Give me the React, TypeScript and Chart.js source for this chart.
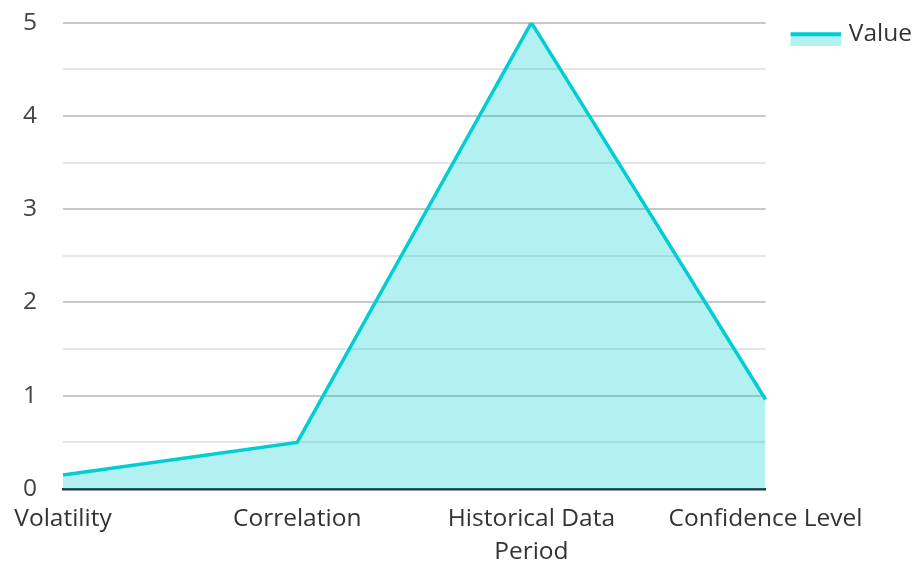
import React, { useEffect, useRef } from "react";
import { Chart, registerables } from "chart.js";

Chart.register(...registerables);

const categories: (string | string[])[] = ["Volatility", "Correlation", ["Historical Data", "Period"], "Confidence Level"];
const values: number[] = [0.15, 0.5, 5, 0.96];
const seriesName = "Value";
const yMin = 0;
const yMax = 5;
const yStep = 0.5;

const LINE = "#00CED1";
const FILL = "rgba(0,206,209,0.3)";
const FONT = "'Open Sans', 'Noto Sans', sans-serif";
const FS = 24.5;

function makeLegendIcon(): HTMLCanvasElement {
  const c = document.createElement("canvas");
  c.width = 74;
  c.height = 24;
  const ctx = c.getContext("2d")!;
  ctx.fillStyle = FILL;
  ctx.fillRect(24, 10, 50, 14);
  ctx.fillStyle = LINE;
  ctx.fillRect(24, 10, 50, 4);
  return c;
}

export default function App() {
  const ref = useRef<HTMLCanvasElement>(null);
  useEffect(() => {
    const icon = makeLegendIcon();
    const chart = new Chart(ref.current!, {
      type: "line",
      data: {
        labels: categories,
        datasets: [
          {
            label: seriesName,
            data: values,
            borderColor: LINE,
            backgroundColor: FILL,
            borderWidth: 3.5,
            fill: "origin",
            pointRadius: 0,
            tension: 0,
            pointStyle: icon as any,
          },
        ],
      },
      options: {
        animation: false,
        responsive: false,
        maintainAspectRatio: false,
        layout: { padding: { left: 0, right: 0, top: 9, bottom: 0 } },
        plugins: {
          tooltip: { enabled: false },
          legend: {
            position: "right",
            align: "start",
            labels: {
              usePointStyle: true,
              pointStyle: icon as any,
              pointStyleWidth: 66,
              boxHeight: 24,
              color: "#333333",
              font: { family: FONT, size: FS },
              padding: 5,
            },
          },
        },
        scales: {
          x: {
            offset: false,
            grid: {
              display: true,
              drawOnChartArea: false,
              drawTicks: true,
              tickLength: 14,
              tickColor: "rgba(0,0,0,0)",
            },
            border: { display: true, color: "#333333", width: 2.5 },
            ticks: {
              color: "#333333",
              font: { family: FONT, size: FS, lineHeight: 33 / FS },
              maxRotation: 0,
              autoSkip: false,
              padding: 0,
            },
          },
          y: {
            min: yMin,
            max: yMax,
            afterFit: (scale: any) => {
              scale.width = 55;
            },
            grid: {
              drawTicks: true,
              tickLength: 26,
              tickColor: "rgba(0,0,0,0)",
              color: (ctx: any) => (Number.isInteger(ctx.tick?.value) ? "#c8c8c8" : "#e6e6e6"),
              lineWidth: 2,
            },
            border: { display: false },
            ticks: {
              stepSize: yStep,
              color: "#444444",
              font: { family: FONT, size: FS },
              padding: 0,
              callback: (v: any) => (Number.isInteger(v) ? String(v) : ""),
            },
          },
        },
      },
    });
    return () => chart.destroy();
  }, []);
  return (
    <div style={{ position: "fixed", left: 8, top: 8, width: 906, height: 553, overflow: "hidden" }}>
      <canvas ref={ref} width={914} height={561} style={{ display: "block" }} />
    </div>
  );
}
